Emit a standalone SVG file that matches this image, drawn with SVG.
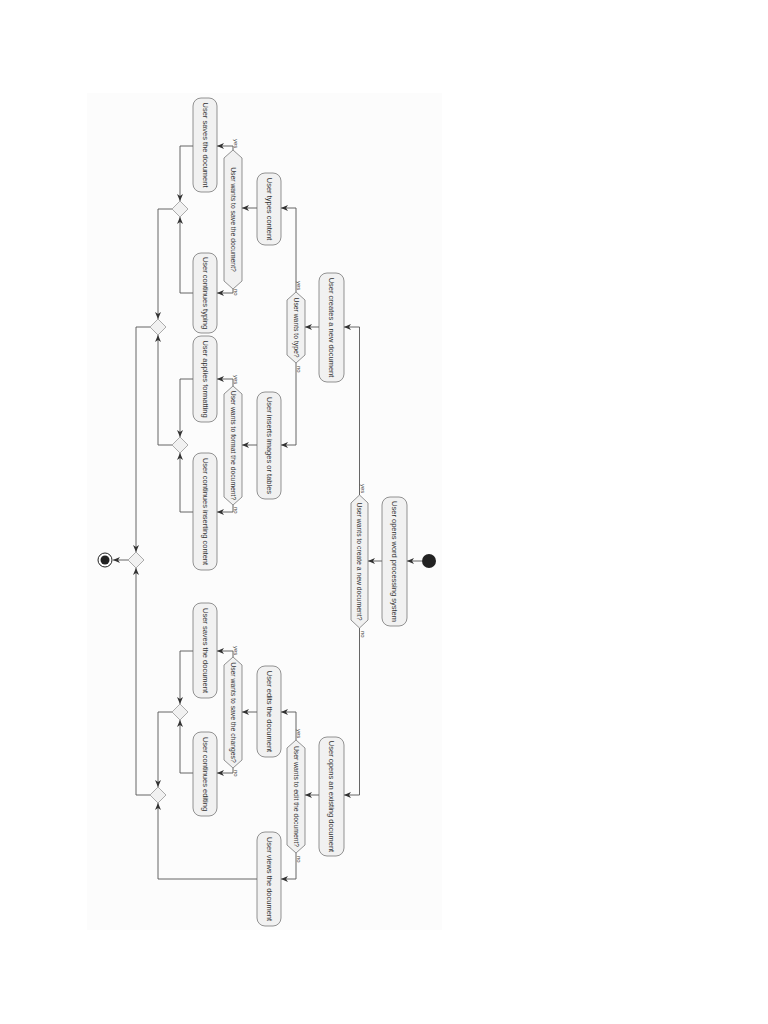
<svg xmlns="http://www.w3.org/2000/svg" width="768" height="1024" viewBox="0 0 768 1024">
<defs>
<marker id="ah" markerUnits="userSpaceOnUse" markerWidth="7" markerHeight="6" refX="7" refY="3" orient="auto">
<path d="M0,0 L7,3 L0,6 L2,3 z" fill="#333"/>
</marker>
<style>
.box{fill:#F1F1F1;stroke:#666;stroke-width:0.7}
.dec{fill:#F1F1F1;stroke:#666;stroke-width:0.7}
.mrg{fill:#F1F1F1;stroke:#777;stroke-width:0.6}
.t{font-family:"Liberation Sans",Arial,sans-serif;font-size:7.5px;fill:#333;text-anchor:middle;dominant-baseline:central}
.td{font-family:"Liberation Sans",Arial,sans-serif;font-size:6.8px;fill:#333;text-anchor:middle;dominant-baseline:central}
.lb{font-family:"Liberation Sans",Arial,sans-serif;font-size:6px;fill:#444}
.c path{fill:none;stroke:#555;stroke-width:0.9;marker-end:url(#ah)}
</style>
</defs>
<rect x="0" y="0" width="768" height="1024" fill="#FFFFFF"/>
<rect x="87" y="93" width="355" height="837" fill="#FCFCFC"/>

<g id="connectors" class="c">
<path d="M422,561 H407"/>
<path d="M382,561 H368"/>
<path d="M359.5,495 V327 H344"/>
<path d="M359.5,628 V795 H344"/>
<path d="M319,327 H305"/>
<path d="M296,292 V208 H281"/>
<path d="M296,363 V445 H281"/>
<path d="M257,208 H242"/>
<path d="M233,150 V146 H217"/>
<path d="M233,289 V293 H217"/>
<path d="M193,146 H180 V201"/>
<path d="M193,293 H180 V217"/>
<path d="M172,209 H158 V319"/>
<path d="M257,445 H242"/>
<path d="M233,386 V379 H217"/>
<path d="M233,505 V512 H217"/>
<path d="M193,379 H180 V437"/>
<path d="M193,512 H180 V453"/>
<path d="M172,445 H158 V335"/>
<path d="M150,327 H136 V552"/>
<path d="M128,560 H113"/>
<path d="M319,795 H305"/>
<path d="M296,740 V712 H281"/>
<path d="M296,853 V879 H281"/>
<path d="M257,712 H242"/>
<path d="M233,657 V651 H217"/>
<path d="M233,768 V773 H217"/>
<path d="M193,651 H180 V704"/>
<path d="M193,773 H180 V720"/>
<path d="M172,712 H158 V787"/>
<path d="M257,879 H158 V803"/>
<path d="M150,795 H136 V568"/>
</g>

<g id="labels">
<text class="lb" transform="translate(360.5,484) rotate(90)">yes</text>
<text class="lb" transform="translate(360.5,631) rotate(90)">no</text>
<text class="lb" transform="translate(297,281) rotate(90)">yes</text>
<text class="lb" transform="translate(297,366) rotate(90)">no</text>
<text class="lb" transform="translate(234,139) rotate(90)">yes</text>
<text class="lb" transform="translate(234,289) rotate(90)">no</text>
<text class="lb" transform="translate(234,375) rotate(90)">yes</text>
<text class="lb" transform="translate(234,507) rotate(90)">no</text>
<text class="lb" transform="translate(297,729) rotate(90)">yes</text>
<text class="lb" transform="translate(297,856) rotate(90)">no</text>
<text class="lb" transform="translate(234,646) rotate(90)">yes</text>
<text class="lb" transform="translate(234,770) rotate(90)">no</text>
</g>

<g id="start"><circle cx="429" cy="561" r="7" fill="#222"/></g>

<g id="n_open_system">
<rect class="box" x="382" y="497" width="25" height="129" rx="8"/>
<text class="t" transform="translate(394.5,561.5) rotate(90)">User opens word processing system</text>
</g>
<g id="d_create">
<polygon class="dec" points="359.5,495 368,503 368,620 359.5,628 351,620 351,503"/>
<text class="td" transform="translate(359.5,561.5) rotate(90)">User wants to create a new document?</text>
</g>

<g id="n_create">
<rect class="box" x="319" y="273" width="25" height="109" rx="8"/>
<text class="t" transform="translate(331.5,327.5) rotate(90)">User creates a new document</text>
</g>
<g id="d_type">
<polygon class="dec" points="296,292 305,300 305,355 296,363 287,355 287,300"/>
<text class="td" transform="translate(296,327.5) rotate(90)">User wants to type?</text>
</g>
<g id="n_types">
<rect class="box" x="257" y="173" width="24" height="72" rx="8"/>
<text class="t" transform="translate(269,209) rotate(90)">User types content</text>
</g>
<g id="n_inserts">
<rect class="box" x="257" y="392" width="24" height="107" rx="8"/>
<text class="t" transform="translate(269,445.5) rotate(90)">User inserts images or tables</text>
</g>
<g id="d_save_doc">
<polygon class="dec" points="233,150 242,158 242,281 233,289 224,281 224,158"/>
<text class="td" transform="translate(233,219.5) rotate(90)">User wants to save the document?</text>
</g>
<g id="n_saves1">
<rect class="box" x="193" y="98" width="24" height="94" rx="8"/>
<text class="t" transform="translate(205,145) rotate(90)">User saves the document</text>
</g>
<g id="n_cont_typing">
<rect class="box" x="193" y="253" width="24" height="80" rx="8"/>
<text class="t" transform="translate(205,293) rotate(90)">User continues typing</text>
</g>
<g id="m1"><polygon class="mrg" points="180,201 188,209 180,217 172,209"/></g>

<g id="d_format">
<polygon class="dec" points="233,386 242,394 242,497 233,505 224,497 224,394"/>
<text class="td" transform="translate(233,445.5) rotate(90)">User wants to format the document?</text>
</g>
<g id="n_applies">
<rect class="box" x="193" y="336" width="24" height="86" rx="8"/>
<text class="t" transform="translate(205,379) rotate(90)">User applies formatting</text>
</g>
<g id="n_cont_inserting">
<rect class="box" x="193" y="453" width="24" height="117" rx="8"/>
<text class="t" transform="translate(205,511.5) rotate(90)">User continues inserting content</text>
</g>
<g id="m3"><polygon class="mrg" points="180,437 188,445 180,453 172,445"/></g>
<g id="m2"><polygon class="mrg" points="158,319 166,327 158,335 150,327"/></g>
<g id="m_final"><polygon class="mrg" points="136,552 144,560 136,568 128,560"/></g>
<g id="end">
<circle cx="105" cy="560" r="7" fill="#FFFFFF" stroke="#222" stroke-width="1"/>
<circle cx="105" cy="560" r="4.5" fill="#222"/>
</g>

<g id="n_open_existing">
<rect class="box" x="319" y="737" width="25" height="119" rx="8"/>
<text class="t" transform="translate(331.5,796.5) rotate(90)">User opens an existing document</text>
</g>
<g id="d_edit">
<polygon class="dec" points="296,740 305,748 305,845 296,853 287,845 287,748"/>
<text class="td" transform="translate(296,796.5) rotate(90)">User wants to edit the document?</text>
</g>
<g id="n_edits">
<rect class="box" x="257" y="666" width="24" height="91" rx="8"/>
<text class="t" transform="translate(269,711.5) rotate(90)">User edits the document</text>
</g>
<g id="n_views">
<rect class="box" x="257" y="832" width="24" height="94" rx="8"/>
<text class="t" transform="translate(269,879) rotate(90)">User views the document</text>
</g>
<g id="d_save_changes">
<polygon class="dec" points="233,657 242,665 242,760 233,768 224,760 224,665"/>
<text class="td" transform="translate(233,712.5) rotate(90)">User wants to save the changes?</text>
</g>
<g id="n_saves2">
<rect class="box" x="193" y="603" width="24" height="95" rx="8"/>
<text class="t" transform="translate(205,650.5) rotate(90)">User saves the document</text>
</g>
<g id="n_cont_editing">
<rect class="box" x="193" y="732" width="24" height="84" rx="8"/>
<text class="t" transform="translate(205,774) rotate(90)">User continues editing</text>
</g>
<g id="m5"><polygon class="mrg" points="180,704 188,712 180,720 172,712"/></g>
<g id="m4"><polygon class="mrg" points="158,787 166,795 158,803 150,795"/></g>
</svg>
